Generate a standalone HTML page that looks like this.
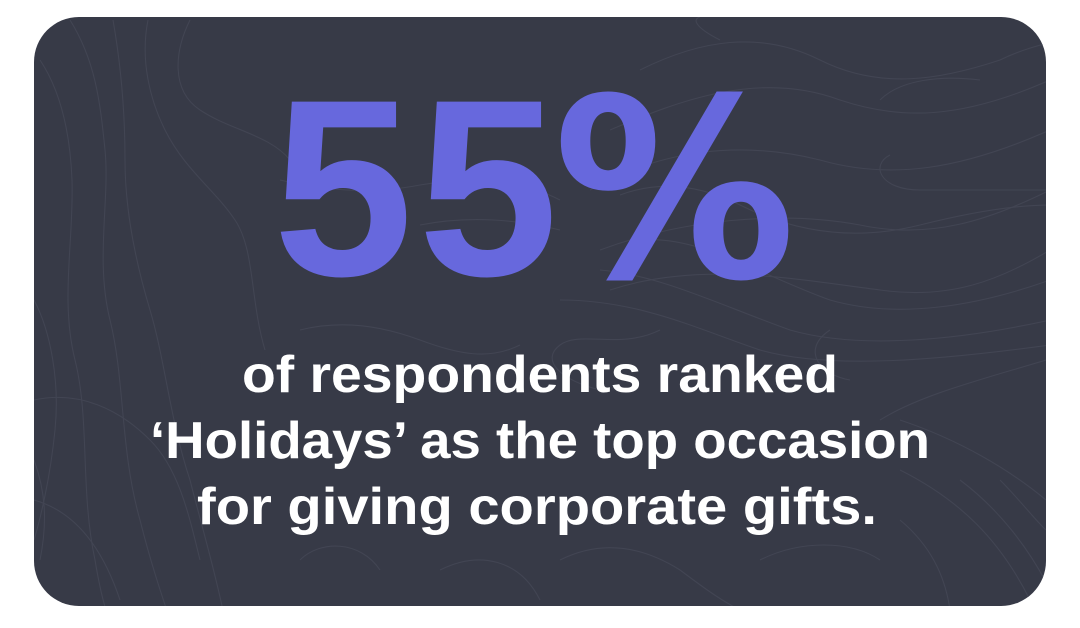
<!DOCTYPE html>
<html>
<head>
<meta charset="utf-8">
<style>
html,body{margin:0;padding:0;background:#ffffff;}
body{width:1080px;height:628px;overflow:hidden;}
svg{display:block;}
</style>
</head>
<body>
<svg width="1080" height="628" viewBox="0 0 1080 628" xmlns="http://www.w3.org/2000/svg">
  <defs>
    <clipPath id="card">
      <rect x="34" y="17" width="1012" height="589" rx="45" ry="45"/>
    </clipPath>
  </defs>
  <rect x="34" y="17" width="1012" height="589" rx="45" ry="45" fill="#373a47"/>
  <g clip-path="url(#card)" fill="none" stroke="#424553" stroke-width="1.1">
    <path d="M70 20 C95 60 100 100 105 150 C110 200 95 260 110 320 C125 380 120 450 140 520 C150 560 160 590 170 620"/>
    <path d="M40 60 C60 90 70 130 72 180 C74 240 60 300 75 360 C90 420 80 490 95 560 C100 590 105 610 110 620"/>
    <path d="M113 20 C120 60 125 110 125 160 C125 210 135 260 150 310 C165 360 170 420 190 480 C200 520 215 570 225 620"/>
    <path d="M148 20 C140 60 150 100 165 130 C185 170 215 190 235 220 C255 250 250 300 265 350"/>
    <path d="M190 20 C175 50 170 90 200 110 C230 130 270 135 290 160"/>
    <path d="M34 300 C50 330 60 380 55 430 C50 480 40 520 34 540"/>
    <path d="M34 460 C45 490 48 520 40 560"/>
    <path d="M640 70 C700 40 760 30 820 60 C880 90 940 80 1000 60 C1020 50 1040 45 1060 40"/>
    <path d="M610 130 C680 100 760 70 840 100 C900 120 960 120 1050 80"/>
    <path d="M590 190 C660 150 740 140 820 160 C890 180 960 170 1050 130"/>
    <path d="M600 250 C680 220 780 210 860 225 C930 240 990 220 1050 190"/>
    <path d="M610 290 C700 260 800 280 880 290 C950 300 1000 280 1050 250"/>
    <path d="M890 155 C870 165 880 190 920 190 C980 190 1020 190 1050 190"/>
    <path d="M560 200 C520 180 480 175 420 185 C370 195 320 190 280 180"/>
    <path d="M560 230 C520 220 470 215 420 225"/>
    <path d="M620 195 C660 180 700 185 740 205 C800 235 860 240 920 225 C980 210 1020 205 1050 205"/>
    <path d="M640 240 C700 235 760 275 830 300 C900 320 980 305 1050 280"/>
    <path d="M600 270 C660 275 720 305 790 330 C860 350 960 340 1050 320"/>
    <path d="M560 300 C640 300 700 330 760 350 C830 370 940 360 1050 345"/>
    <path d="M1046 360 C980 380 920 395 880 420"/>
    <path d="M830 330 C800 350 820 375 850 380"/>
    <path d="M660 330 C620 350 580 330 560 345 C540 360 560 380 600 390"/>
    <path d="M300 330 C340 320 380 325 420 340 C460 355 490 360 520 345"/>
    <path d="M900 470 C960 500 1000 540 1030 600"/>
    <path d="M900 420 C960 440 1010 470 1046 500"/>
    <path d="M960 480 C1000 510 1030 550 1050 590"/>
    <path d="M1000 480 C1020 500 1035 520 1046 530"/>
    <path d="M900 520 C930 545 945 575 950 610"/>
    <path d="M34 400 C80 390 120 410 150 440 C180 470 190 520 200 560"/>
    <path d="M34 500 C70 510 100 540 120 600"/>
    <path d="M560 560 C600 540 640 545 680 570 C700 585 720 600 740 610"/>
    <path d="M440 570 C480 550 520 560 540 600"/>
    <path d="M300 560 C320 540 360 540 380 570"/>
    <path d="M760 560 C800 540 850 540 880 560"/>
    <path d="M880 100 C900 80 940 75 980 80"/>
    <path d="M720 40 C700 30 690 20 700 17"/>
  </g>
  <g fill="#6768dd" font-weight="bold">
    <text x="273" y="275" font-size="252" font-family="'Liberation Sans', Arial, sans-serif">5</text>
    <text x="418" y="275" font-size="252" font-family="'Liberation Sans', Arial, sans-serif">5</text>
    <text x="0" y="0" font-size="250" font-family="'DejaVu Sans', sans-serif" transform="translate(553,277) scale(0.97,1.0)">%</text>
  </g>
  <g fill="#ffffff" font-family="'Liberation Sans', Arial, sans-serif" font-weight="bold" font-size="52" text-anchor="middle">
    <text x="540" y="392" textLength="596" lengthAdjust="spacingAndGlyphs">of respondents ranked</text>
    <text x="540" y="458" textLength="780" lengthAdjust="spacingAndGlyphs">‘Holidays’ as the top occasion</text>
    <text x="537" y="524" textLength="680" lengthAdjust="spacingAndGlyphs">for giving corporate gifts.</text>
  </g>
</svg>
</body>
</html>
